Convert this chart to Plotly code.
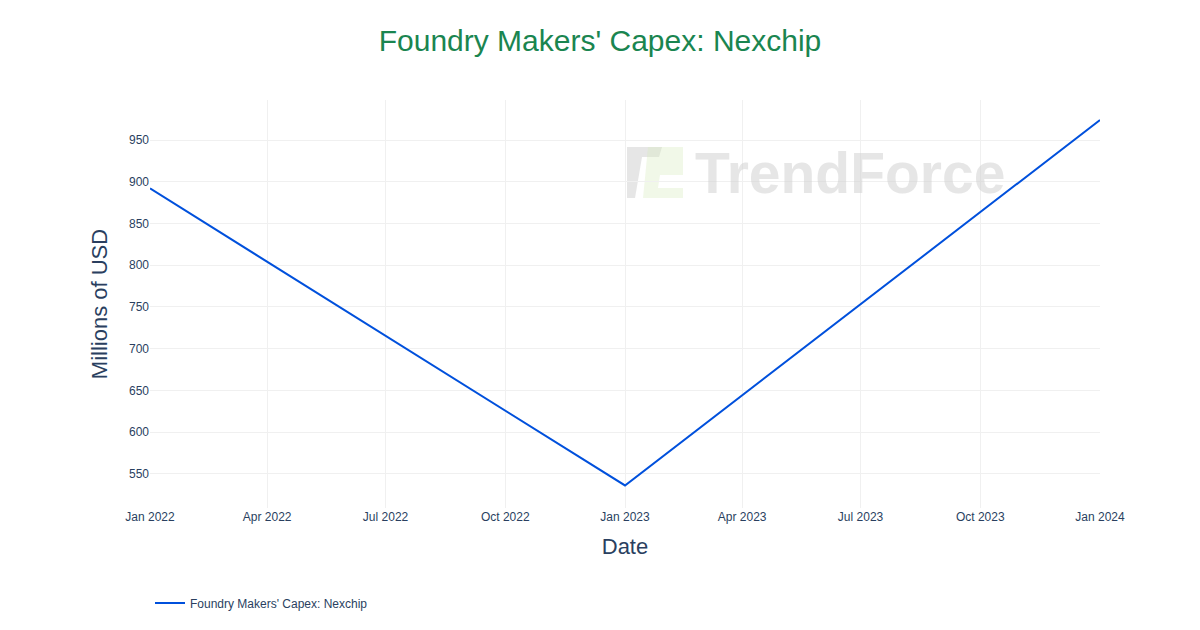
import plotly.graph_objects as go

dates = ["2022-01-01", "2023-01-01", "2024-01-01"]
capex = [892, 536, 974]
series_name = "Foundry Makers' Capex: Nexchip"
tick_dates = ["2022-01-01", "2022-04-01", "2022-07-01", "2022-10-01", "2023-01-01",
              "2023-04-01", "2023-07-01", "2023-10-01", "2024-01-01"]

fig = go.Figure()
fig.add_trace(go.Scatter(
    x=dates, y=capex, mode="lines", name=series_name,
    line=dict(color="#0050dc", width=2),
))

# watermark (pixel -> paper helper; plot area x 150..1100, y 100..508)
def px(x):
    return (x - 150) / 950
def py(y):
    return (508 - y) / 408

gray_path = "M {} {} L {} {} L {} {} L {} {} L {} {} L {} {} Z".format(
    px(627), py(147), px(662), py(147), px(659), py(157),
    px(642), py(157), px(635), py(198), px(627), py(198))
green_path = "M {} {} L {} {} L {} {} L {} {} L {} {} L {} {} L {} {} L {} {} Z".format(
    px(648), py(147), px(683), py(147), px(683), py(175), px(660), py(175),
    px(658), py(188), px(683), py(188), px(683), py(198), px(643), py(198))
fig.add_shape(type="path", path=gray_path, xref="paper", yref="paper",
              fillcolor="rgba(205,205,205,0.5)", line=dict(width=0), layer="below")
fig.add_shape(type="path", path=green_path, xref="paper", yref="paper",
              fillcolor="rgba(215,235,190,0.35)", line=dict(width=0), layer="below")

fig.add_annotation(
    text="<b>TrendForce</b>", xref="paper", yref="paper",
    x=px(850), y=py(173), xanchor="center", yanchor="middle", showarrow=False,
    font=dict(size=57, color="rgba(205,205,205,0.5)", family="Liberation Sans, Arial"),
)

fig.update_layout(
    width=1184, height=614,
    paper_bgcolor="white", plot_bgcolor="white",
    font=dict(family="Liberation Sans, Arial", color="#2a3f5f"),
    title=dict(text="Foundry Makers' Capex: Nexchip", x=0.5, xanchor="center",
               y=1 - 32 / 614, yanchor="middle",
               font=dict(size=30, color="#1a8550")),
    margin=dict(l=142, r=92, t=92, b=114, autoexpand=False),
    showlegend=True,
    legend=dict(orientation="h", x=0, xanchor="left", y=-95 / 408, yanchor="middle",
                font=dict(size=12)),
    xaxis=dict(
        title=dict(text="Date", font=dict(size=22)),
        tickvals=tick_dates,
        tickformat="%b %Y",
        showgrid=True, gridcolor="#f0f0f0", zeroline=False,
        tickfont=dict(size=12),
    ),
    yaxis=dict(
        title=dict(text="Millions of USD", font=dict(size=22)),
        range=[509, 998], dtick=50,
        showgrid=True, gridcolor="#f0f0f0", zeroline=False,
        tickfont=dict(size=12),
    ),
)

fig.write_html("out.html")
